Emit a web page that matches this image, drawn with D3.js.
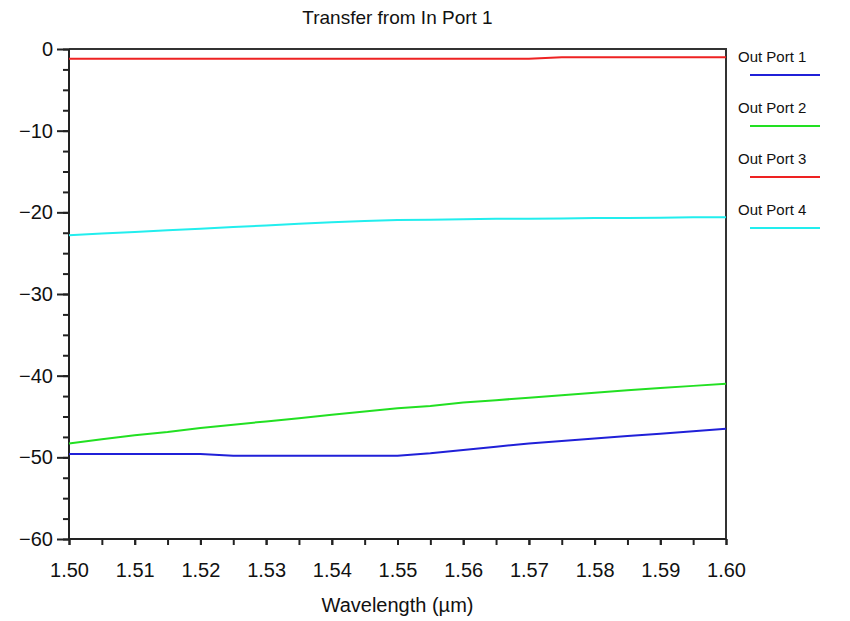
<!DOCTYPE html>
<html>
<head>
<meta charset="utf-8">
<script src="https://cdn.jsdelivr.net/npm/d3@7"></script>
<style>
  body { margin: 0; background: #fff; }
  svg { font-family: "Liberation Sans", Arial, sans-serif; }
</style>
</head>
<body>
<div id="chart"></div>
<script>
// wavelength samples (µm)
const wavelengths = [1.500, 1.505, 1.510, 1.515, 1.520, 1.525, 1.530, 1.535, 1.540, 1.545,
  1.550, 1.555, 1.560, 1.565, 1.570, 1.575, 1.580, 1.585, 1.590, 1.595, 1.600];

const port1 = [-49.6, -49.6, -49.6, -49.6, -49.6, -49.8, -49.8, -49.8, -49.8, -49.8,
  -49.8, -49.5, -49.1, -48.7, -48.3, -48.0, -47.7, -47.4, -47.1, -46.8, -46.5];
const port2 = [-48.3, -47.8, -47.3, -46.9, -46.4, -46.0, -45.6, -45.2, -44.8, -44.4,
  -44.0, -43.7, -43.3, -43.0, -42.7, -42.4, -42.1, -41.8, -41.5, -41.25, -41.0];
const port3 = [-1.2, -1.2, -1.2, -1.2, -1.2, -1.2, -1.2, -1.2, -1.2, -1.2,
  -1.2, -1.2, -1.2, -1.2, -1.2, -1.0, -1.0, -1.0, -1.0, -1.0, -1.0];
const port4 = [-22.8, -22.6, -22.4, -22.2, -22.0, -21.8, -21.6, -21.4, -21.2, -21.05,
  -20.95, -20.9, -20.85, -20.8, -20.8, -20.75, -20.7, -20.7, -20.65, -20.6, -20.6];

const seriesNames = ['Out Port 1', 'Out Port 2', 'Out Port 3', 'Out Port 4'];
const seriesValues = [port1, port2, port3, port4];
const seriesColors = ['#2020d8', '#22e022', '#ee2222', '#22eeee'];

const xTicks = [1.50, 1.51, 1.52, 1.53, 1.54, 1.55, 1.56, 1.57, 1.58, 1.59, 1.60];
const yTicks = [0, -10, -20, -30, -40, -50, -60];

const W = 850, H = 621;
const plotL = 69, plotR = 726, plotT = 49, plotB = 539;

const svg = d3.select('#chart').append('svg').attr('width', W).attr('height', H);

const x = d3.scaleLinear().domain([1.5, 1.6]).range([plotL, plotR]);
const y = d3.scaleLinear().domain([-60, 0]).range([plotB, plotT]);

// title
svg.append('text').text('Transfer from In Port 1')
  .attr('x', (plotL + plotR) / 2).attr('y', 24)
  .attr('text-anchor', 'middle').attr('font-size', 19).attr('fill', '#111');

// frame (top + right)
svg.append('path')
  .attr('d', `M${plotL},${plotT}H${plotR}V${plotB}`)
  .attr('fill', 'none').attr('stroke', '#333').attr('stroke-width', 2);

// minor ticks
const xMinor = d3.range(0, 21).map(i => 1.5 + i * 0.005);
svg.append('g').attr('transform', `translate(0,${plotB})`)
  .call(d3.axisBottom(x).tickValues(xMinor).tickSize(6).tickFormat(''))
  .call(g => g.select('.domain').remove())
  .selectAll('line').attr('stroke', '#222').attr('stroke-width', 2);
const yMinor = d3.range(0, 25).map(i => -60 + i * 2.5);
svg.append('g').attr('transform', `translate(${plotL},0)`)
  .call(d3.axisLeft(y).tickValues(yMinor).tickSize(6).tickFormat(''))
  .call(g => g.select('.domain').remove())
  .selectAll('line').attr('stroke', '#222').attr('stroke-width', 2);

// major axes
const xAxis = svg.append('g').attr('transform', `translate(0,${plotB})`)
  .call(d3.axisBottom(x).tickValues(xTicks).tickSize(12).tickPadding(6).tickFormat(d3.format('.2f')));
const yAxis = svg.append('g').attr('transform', `translate(${plotL},0)`)
  .call(d3.axisLeft(y).tickValues(yTicks).tickSize(12).tickPadding(4).tickFormat(d3.format('d')));
[xAxis, yAxis].forEach(g => {
  g.select('.domain').attr('stroke', '#222').attr('stroke-width', 2);
  g.selectAll('line').attr('stroke', '#222').attr('stroke-width', 2);
  g.selectAll('text').attr('font-size', 20).attr('fill', '#111')
    .attr('font-family', '"Liberation Sans", Arial, sans-serif');
});
yAxis.select('.domain').attr('d', `M0,${plotB}V${plotT}`);
xAxis.select('.domain').attr('d', `M${plotL},0H${plotR}`);
yAxis.selectAll('.tick line').attr('x2', -12);
xAxis.selectAll('.tick line').attr('y2', 6);
xAxis.selectAll('.tick text').attr('y', 24);

svg.append('text').text('Wavelength (\u00b5m)')
  .attr('x', (plotL + plotR) / 2).attr('y', 612)
  .attr('text-anchor', 'middle').attr('font-size', 20).attr('fill', '#111');

// lines
const line = d3.line().x((d, i) => x(wavelengths[i])).y(d => y(d));
seriesValues.forEach((vals, k) => {
  svg.append('path').datum(vals)
    .attr('d', line).attr('fill', 'none')
    .attr('stroke', seriesColors[k]).attr('stroke-width', 2);
});

// legend
seriesNames.forEach((name, k) => {
  const ly = 62 + k * 51;
  svg.append('text').text(name)
    .attr('x', 738).attr('y', ly).attr('font-size', 15).attr('fill', '#111');
  svg.append('line')
    .attr('x1', 750).attr('x2', 820).attr('y1', ly + 13).attr('y2', ly + 13)
    .attr('stroke', seriesColors[k]).attr('stroke-width', 2);
});
</script>
</body>
</html>
